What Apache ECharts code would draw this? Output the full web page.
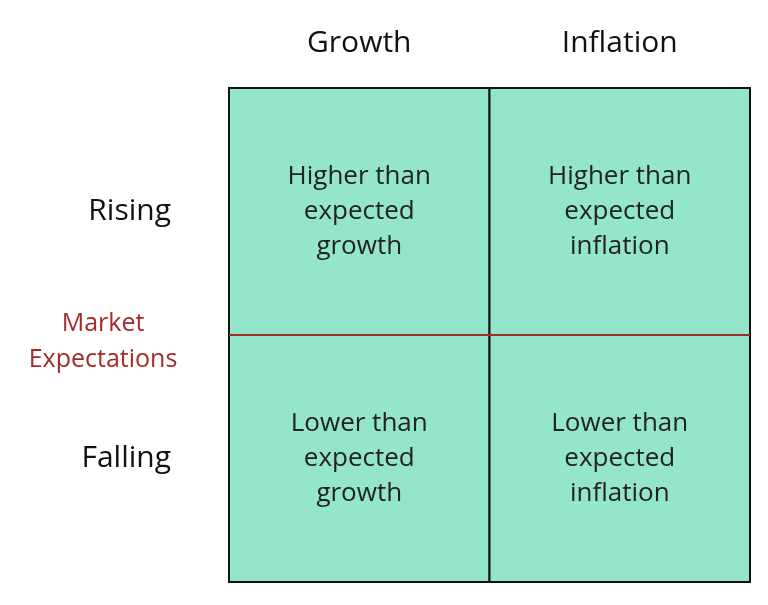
<!DOCTYPE html>
<html><head><meta charset="utf-8">
<script src="https://cdn.jsdelivr.net/npm/echarts@6/dist/echarts.min.js"></script>
<style>html,body{margin:0;padding:0;background:#fff}#c{width:768px;height:605px}</style>
</head><body><div id="c"></div>
<script>
const columns = ['Growth', 'Inflation'];
const rows = ['Falling', 'Rising'];
const cellTexts = [
  [0, 1, 'Higher than\nexpected\ngrowth'],
  [1, 1, 'Higher than\nexpected\ninflation'],
  [0, 0, 'Lower than\nexpected\ngrowth'],
  [1, 0, 'Lower than\nexpected\ninflation']
];
const dividerLevel = 1;
const sideTitle = 'Market\nExpectations';

const chart = echarts.init(document.getElementById('c'));
const font = '"Open Sans", "Noto Sans", sans-serif';
chart.setOption({
  animation: false,
  grid: {left: 229, right: 18, top: 88, bottom: 23, containLabel: false, outerBoundsMode: 'none'},
  xAxis: [
    {type: 'value', min: 0, max: 2, show: false},
    {type: 'category', data: columns, position: 'top', gridIndex: 0,
     axisLine: {show: false}, axisTick: {show: false}, splitLine: {show: false},
     axisLabel: {fontSize: 30, color: '#111', fontFamily: font, margin: 30}}
  ],
  yAxis: [
    {type: 'value', min: 0, max: 2, show: false},
    {type: 'category', data: rows, gridIndex: 0, position: 'left',
     axisLine: {show: false}, axisTick: {show: false}, splitLine: {show: false},
     axisLabel: {fontSize: 30, color: '#111', fontFamily: font, margin: 58}}
  ],
  graphic: [{type: 'text', x: 103, y: 306,
    style: {text: sideTitle, fontSize: 25, fill: '#a52a2a', fontFamily: font, align: 'center', lineHeight: 36}}],
  series: [{
    type: 'custom', xAxisIndex: 0, yAxisIndex: 0,
    data: cellTexts,
    renderItem: function (params, api) {
      const p1 = api.coord([api.value(0), api.value(1) + 1]);
      const p2 = api.coord([api.value(0) + 1, api.value(1)]);
      return {
        type: 'rect',
        shape: {x: p1[0], y: p1[1], width: p2[0] - p1[0], height: p2[1] - p1[1]},
        style: {fill: '#93e6cc', stroke: '#111', lineWidth: 2},
        textContent: {style: {text: cellTexts[params.dataIndex][2], fontSize: 26, fill: '#222',
          fontFamily: font, align: 'center', lineHeight: 35}},
        textConfig: {position: 'inside'}
      };
    },
    markLine: {symbol: 'none', silent: true, label: {show: false},
      lineStyle: {color: '#a52a2a', type: 'solid', width: 2},
      data: [{yAxis: dividerLevel}]}
  }]
});
</script></body></html>
